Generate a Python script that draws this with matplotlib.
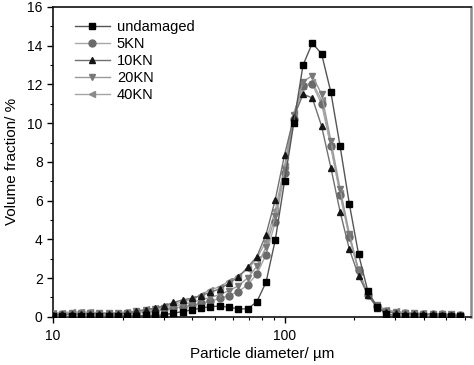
import matplotlib
matplotlib.use("Agg")
import matplotlib.pyplot as plt
from matplotlib.ticker import LogLocator, FixedLocator, NullFormatter, MultipleLocator

plt.rcParams['font.family'] = ['Liberation Sans', 'DejaVu Sans']

# ---------------- DATA ----------------
diameter = [10.0, 10.96, 12.02, 13.18, 14.45, 15.85, 17.38, 19.05, 20.89, 22.91,
            25.12, 27.54, 30.20, 33.11, 36.31, 39.81, 43.65, 47.86, 52.48, 57.54,
            63.10, 69.18, 75.86, 83.18, 91.20, 100.0, 109.6, 120.2, 131.8, 144.5,
            158.5, 173.8, 190.5, 208.9, 229.1, 251.2, 275.4, 302.0, 331.1, 363.1,
            398.1, 436.5, 478.6, 524.8, 575.4]

undamaged = [0.02, 0.02, 0.02, 0.03, 0.03, 0.03, 0.04, 0.04, 0.05, 0.06,
             0.07, 0.08, 0.10, 0.19, 0.27, 0.36, 0.45, 0.53, 0.55, 0.50,
             0.41, 0.41, 0.77, 1.79, 3.97, 7.00, 10.0, 13.0, 14.13, 13.58,
             11.6, 8.80, 5.83, 3.22, 1.31, 0.50, 0.15, 0.05, 0.02, 0.02,
             0.02, 0.02, 0.02, 0.02, 0.02]

kn5 = [0.12, 0.15, 0.17, 0.18, 0.18, 0.17, 0.17, 0.16, 0.18, 0.20,
       0.25, 0.30, 0.38, 0.45, 0.52, 0.60, 0.70, 0.82, 0.95, 1.10,
       1.30, 1.65, 2.20, 3.20, 4.90, 7.40, 10.2, 11.9, 12.0, 11.0,
       8.80, 6.30, 4.10, 2.40, 1.15, 0.55, 0.30, 0.20, 0.18, 0.15,
       0.15, 0.12, 0.12, 0.10, 0.10]

kn10 = [0.10, 0.12, 0.13, 0.14, 0.15, 0.15, 0.15, 0.16, 0.20, 0.28,
        0.36, 0.45, 0.57, 0.74, 0.88, 0.96, 1.10, 1.27, 1.44, 1.74,
        2.05, 2.55, 3.10, 4.25, 6.05, 8.36, 10.3, 11.5, 11.3, 9.85,
        7.70, 5.42, 3.49, 2.12, 1.13, 0.45, 0.25, 0.20, 0.15, 0.15,
        0.12, 0.12, 0.10, 0.10, 0.10]

kn20 = [0.15, 0.17, 0.20, 0.20, 0.20, 0.18, 0.18, 0.20, 0.22, 0.28,
        0.33, 0.40, 0.48, 0.55, 0.65, 0.75, 0.88, 1.00, 1.15, 1.35,
        1.60, 2.00, 2.60, 3.60, 5.20, 7.60, 10.4, 12.15, 12.45, 11.5,
        9.10, 6.60, 4.30, 2.40, 1.15, 0.60, 0.32, 0.25, 0.20, 0.18,
        0.15, 0.15, 0.12, 0.12, 0.10]

kn40 = [0.18, 0.22, 0.25, 0.25, 0.23, 0.22, 0.20, 0.22, 0.25, 0.30,
        0.38, 0.45, 0.55, 0.65, 0.78, 0.90, 1.15, 1.40, 1.55, 1.85,
        2.10, 2.45, 3.00, 3.90, 5.50, 7.80, 10.5, 11.9, 12.1, 11.2,
        8.80, 6.40, 4.20, 2.30, 1.10, 0.55, 0.35, 0.28, 0.22, 0.20,
        0.18, 0.15, 0.15, 0.12, 0.10]

labels = ["undamaged", "5KN", "10KN", "20KN", "40KN"]
series = [undamaged, kn5, kn10, kn20, kn40]
markers = ["s", "o", "^", "v", "<"]
marker_colors = ["#000000", "#6a6a6a", "#151515", "#787878", "#8a8a8a"]
line_colors = ["#555555", "#a8a8a8", "#707070", "#9a9a9a", "#a5a5a5"]
zorders = [7, 4, 6, 5, 3]

# ---------------- PLOT ----------------
fig = plt.figure(figsize=(4.74, 3.65), dpi=100)
ax = fig.add_axes([0.112, 0.132, 0.882, 0.849])

for y, lab, m, mc, lc, z in zip(series, labels, markers, marker_colors, line_colors, zorders):
    ax.plot(diameter, y, marker=m, color=lc, markerfacecolor=mc, markeredgecolor=mc,
            markersize=5, linewidth=1.0, label=lab, zorder=z)

ax.set_xscale("log")
ax.set_xlim(10, 640)
ax.set_ylim(0, 16)

ax.xaxis.set_major_locator(FixedLocator([10, 100]))
ax.xaxis.set_major_formatter(plt.FuncFormatter(lambda v, p: "%d" % v))
ax.xaxis.set_minor_locator(LogLocator(base=10, subs=range(2, 10)))
ax.xaxis.set_minor_formatter(NullFormatter())
ax.yaxis.set_major_locator(MultipleLocator(2))
ax.yaxis.set_minor_locator(MultipleLocator(1))

ax.tick_params(which="major", direction="out", length=4, width=1, labelsize=10)
ax.tick_params(axis="x", which="major", pad=5)
ax.tick_params(which="minor", direction="out", length=2.5, width=0.8)

for side in ["left", "bottom", "top"]:
    ax.spines[side].set_linewidth(1.2)
    ax.spines[side].set_color("#111111")
ax.spines["right"].set_linewidth(1.8)
ax.spines["right"].set_color("#8a8a8a")

ax.set_xlabel("Particle diameter/ µm", fontsize=11, labelpad=3)
ax.set_ylabel("Volume fraction/ %", fontsize=11, labelpad=6)

ax.legend(loc="upper left", bbox_to_anchor=(0.02, 1.0), frameon=False, fontsize=10.5,
          handlelength=2.4, labelspacing=0.2, handletextpad=0.5)

fig.savefig("out.png", dpi=100)
